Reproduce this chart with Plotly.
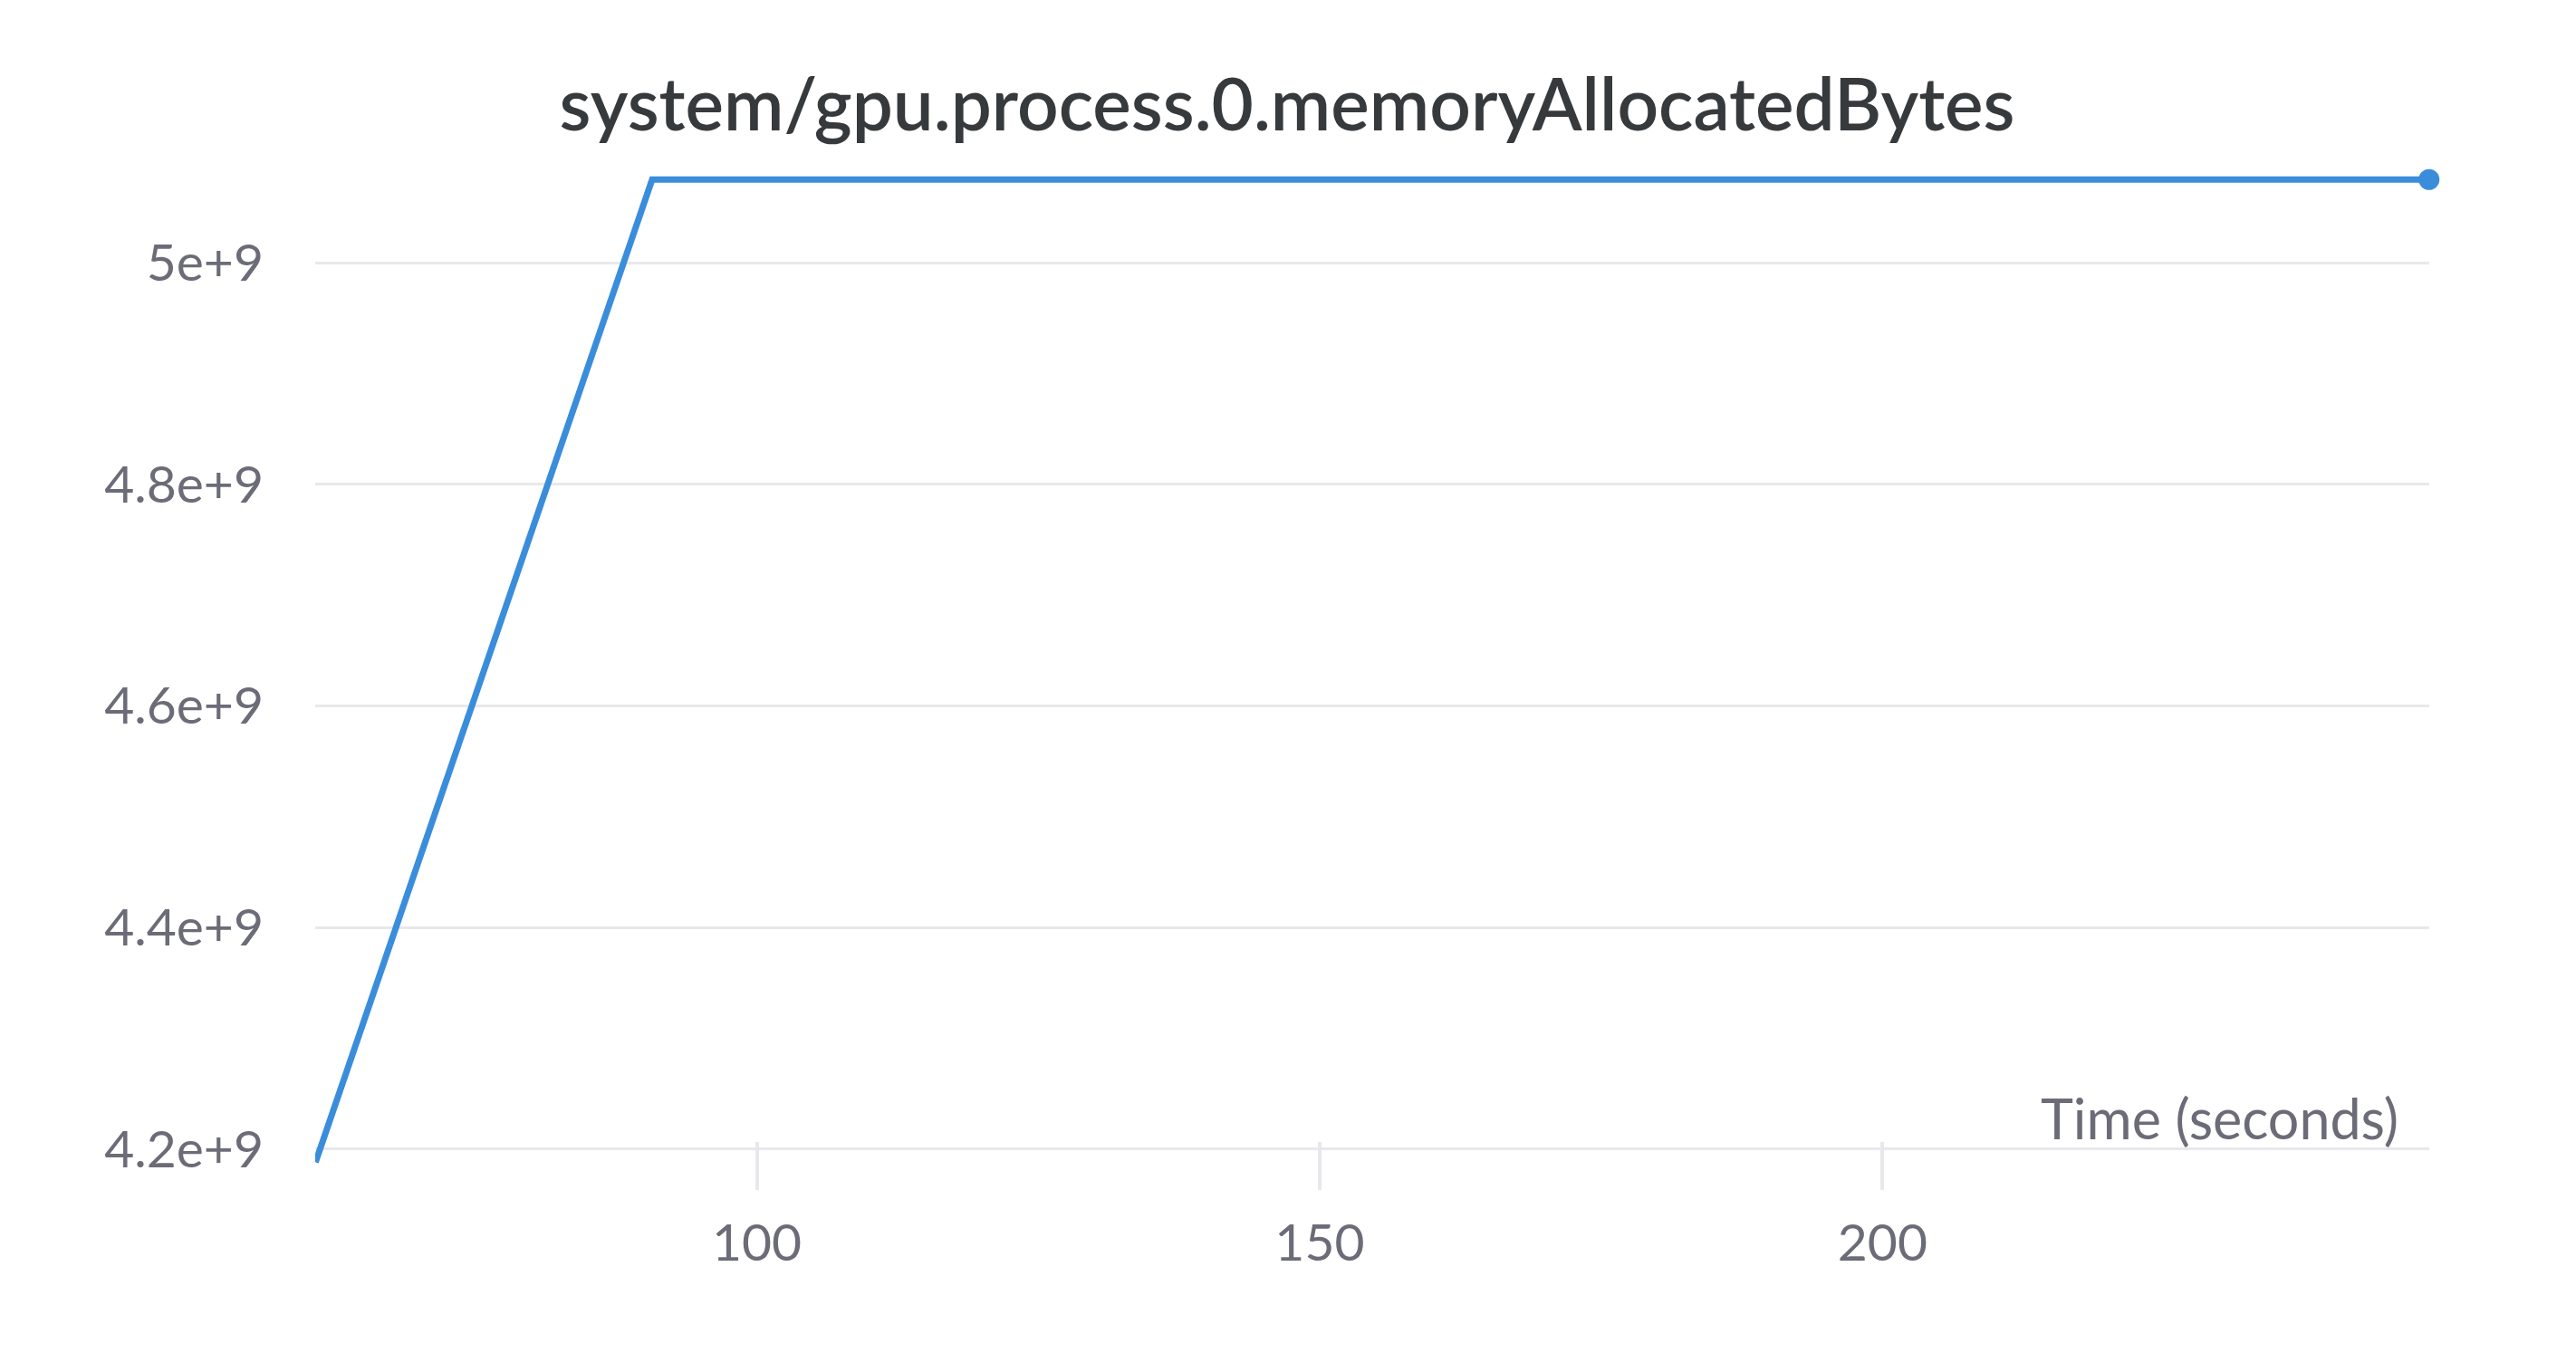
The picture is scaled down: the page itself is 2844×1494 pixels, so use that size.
import plotly.graph_objects as go

# ---- data ----
time_seconds = [60.8, 90.7, 248.55]
memory_bytes = [4.188e9, 5.075e9, 5.075e9]

x_tick_vals = [100, 150, 200]
x_tick_text = ["100", "150", "200"]
y_tick_vals = [4.2e9, 4.4e9, 4.6e9, 4.8e9, 5.0e9]
y_tick_text = ["4.2e+9", "4.4e+9", "4.6e+9", "4.8e+9", "5e+9"]

title_text = "system/gpu.process.0.memoryAllocatedBytes"
x_label = "Time (seconds)"

OFF = 8  # page body margin
W, H = 2844 - 2 * OFF, 1494 - 2 * OFF
PL, PR, PT, PB = 348 - OFF, 2682 - OFF, 190 - OFF, 1290 - OFF  # plot area in figure px
FONT = "Lato"
TICK_COLOR = "#6c6c78"
GRID = "#e8e8ec"
LINE = "#3a8ddb"

marker_sizes = [0] * (len(time_seconds) - 1) + [23]

fig = go.Figure()
fig.add_trace(go.Scatter(
    x=time_seconds, y=memory_bytes, mode="lines",
    line=dict(color=LINE, width=7),
    hoverinfo="skip", showlegend=False,
))
fig.add_trace(go.Scatter(
    x=time_seconds, y=memory_bytes, mode="markers",
    marker=dict(color=LINE, size=marker_sizes, line=dict(width=0), opacity=1),
    cliponaxis=False, hoverinfo="skip", showlegend=False,
))

fig.update_layout(
    width=W, height=H,
    margin=dict(l=PL, r=W - PR, t=PT, b=H - PB, pad=0),
    paper_bgcolor="white", plot_bgcolor="white",
    font=dict(family=FONT, size=57, color=TICK_COLOR),
    title=dict(
        text=title_text, xref="container", x=(1421 - OFF) / W, xanchor="center",
        yref="container", y=1 - (116 - OFF) / H, yanchor="middle",
        font=dict(family=FONT, size=80, color="#363a3d", weight=600),
    ),
    xaxis=dict(
        range=[60.77, 248.57], tickvals=x_tick_vals, ticktext=x_tick_text,
        showgrid=False, zeroline=False, showline=False,
        anchor="free", position=(PB - (1260 - OFF)) / (PB - PT),
        ticks="outside", ticklen=53, tickwidth=4, tickcolor=GRID,
        ticklabelstandoff=10,
        tickfont=dict(family=FONT, size=57, color=TICK_COLOR),
    ),
    yaxis=dict(
        range=[4.18259e9, 5.08174e9], tickvals=y_tick_vals, ticktext=y_tick_text,
        showgrid=True, gridcolor=GRID, gridwidth=2.5,
        zeroline=False, showline=False, ticks="",
        ticklabelstandoff=56,
        tickfont=dict(family=FONT, size=57, color=TICK_COLOR),
    ),
    annotations=[dict(
        text=x_label, xref="paper", x=1, xanchor="right", xshift=-32,
        yref="y", y=4.2e9, yanchor="bottom", yshift=-4, showarrow=False,
        font=dict(family=FONT, size=61, color=TICK_COLOR),
    )],
)

fig.write_html("out.html")
